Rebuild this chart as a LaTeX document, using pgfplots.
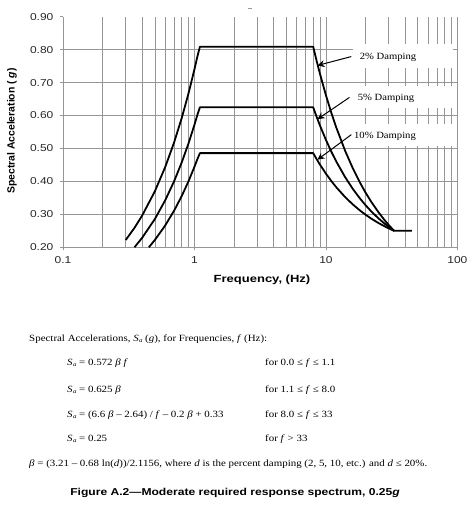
\documentclass[border=0pt]{standalone}
\usepackage{fontspec}
\setmainfont{Liberation Serif}
\setsansfont{Liberation Sans}
\usepackage{pgfplots}
\pgfplotsset{compat=1.18}
\usetikzlibrary{arrows.meta}
\definecolor{gridc}{RGB}{150,150,150}
\newcommand{\Sa}{\textit{S}\kern0.03em\raisebox{-0.35ex}{\fontsize{6}{7}\selectfont\textit{a}}}
\begin{document}
\begin{tikzpicture}[x=1pt,y=1pt]
\path[use as bounding box] (-63,-262.7) rectangle (411,247.3);
\begin{axis}[
  at={(0,0)}, anchor=south west,
  scale only axis, width=394.4pt, height=230.6pt,
  xmode=log, xmin=0.1, xmax=100, ymin=0.2, ymax=0.9,
  axis lines=left, axis line style={-, draw=gridc, line width=0.8pt},
  xtick={0.1,1,10,100}, xticklabels={0.1,1,10,100},
  ytick={0.2,0.3,0.4,0.5,0.6,0.7,0.8},
  yticklabels={0.20,0.30,0.40,0.50,0.60,0.70,0.80},
  extra y ticks={0.9}, extra y tick labels={0.90},
  extra y tick style={grid=none},
  xmajorgrids, xminorgrids, ymajorgrids,
  grid style={draw=gridc, line width=0.7pt},
  minor grid style={draw=gridc, line width=0.7pt},
  major tick length=3pt, minor tick length=0pt, tick align=outside,
  tick style={draw=gridc, line width=0.7pt},
  ticklabel style={font=\fontsize{10}{12}\selectfont\sffamily, text=black!85, xscale=1.2},
  xticklabel style={yshift=-3pt},
  yticklabel style={xshift=-2pt},
  /pgf/number format/assume math mode=true,
]
\addplot[black, line width=1.8pt, line join=round] coordinates {
(0.30,0.2221)(0.35,0.2592)(0.40,0.2962)(0.50,0.3702)(0.60,0.4443)(0.70,0.5183)(0.80,0.5924)(0.90,0.6664)(1.00,0.7405)(1.05,0.7775)(1.10,0.809)(8.0,0.809)(8.5,0.7657)(9,0.7271)(10,0.6615)(11,0.6078)(12,0.5631)(14,0.4928)(16,0.4401)(18,0.3991)(20,0.3663)(22,0.3395)(25,0.3073)(28,0.2820)(30,0.2679)(33,0.25)(45,0.25)};
\addplot[black, line width=1.8pt, line join=round] coordinates {
(0.35,0.2002)(0.40,0.2288)(0.50,0.286)(0.60,0.3432)(0.70,0.4004)(0.80,0.4576)(0.90,0.5148)(1.00,0.572)(1.05,0.6006)(1.10,0.625)(8,0.625)(8.5,0.5959)(9,0.57)(10,0.526)(11,0.49)(12,0.46)(14,0.4129)(16,0.3775)(18,0.35)(20,0.328)(22,0.31)(25,0.2884)(28,0.2714)(30,0.262)(33,0.25)};
\addplot[black, line width=1.8pt, line join=round] coordinates {
(0.45,0.2001)(0.50,0.2223)(0.60,0.2667)(0.70,0.3112)(0.80,0.3556)(0.90,0.4001)(1.00,0.4446)(1.05,0.4668)(1.10,0.4858)(8,0.4858)(8.5,0.4675)(9,0.4512)(10,0.4235)(11,0.4009)(12,0.3820)(14,0.3524)(16,0.3302)(18,0.3129)(20,0.2990)(22,0.2877)(25,0.2741)(28,0.2635)(30,0.2576)(33,0.25)};
\draw[line width=1pt, -{Stealth[length=7pt,width=7pt]}] (axis cs:15.6,0.779) -- (axis cs:8.63,0.752);
\draw[line width=1pt, -{Stealth[length=7pt,width=7pt]}] (axis cs:15.1,0.655) -- (axis cs:8.63,0.589);
\draw[line width=1pt, -{Stealth[length=7pt,width=7pt]}] (axis cs:15.6,0.542) -- (axis cs:8.63,0.466);
\end{axis}
% label boxes
\fill[white] (290,179.3) rectangle (390,203.3);
\fill[white] (290,139.3) rectangle (390,161.3);
\fill[white] (290,101.3) rectangle (390,123.3);
\node[font=\fontsize{9.5}{11}\selectfont, xscale=1.12] at (325,190.3) {2\% Damping};
\node[font=\fontsize{9.5}{11}\selectfont, xscale=1.12] at (323,149.3) {5\% Damping};
\node[font=\fontsize{9.5}{11}\selectfont, xscale=1.12] at (322,111.3) {10\% Damping};
\draw[gridc, line width=0.8pt] (184.5,238.5) -- (189,238.5);
% axis titles
\node[font=\fontsize{10.4}{12}\selectfont\sffamily\bfseries, xscale=1.25] at (199,-32.7) {Frequency, (Hz)};
\node[font=\fontsize{10.4}{12}\selectfont\sffamily\bfseries, rotate=90] at (-51,116.3) {Spectral Acceleration ( \textit{g})};
% text below
\begin{scope}[every node/.style={font=\fontsize{9.5}{11}\selectfont, xscale=1.15, inner sep=0pt}]
\node[anchor=west] at (-34,-91.7) {Spectral Accelerations, \Sa\ (\textit{g}), for Frequencies, \textit{f} (Hz):};
\node[anchor=west] at (4,-115.7) {\Sa\ = 0.572 \textit{β f}};
\node[anchor=west] at (4,-142.7) {\Sa\ = 0.625 \textit{β}};
\node[anchor=west] at (4,-167.7) {\Sa\ = (6.6 \textit{β} – 2.64) / \textit{f} – 0.2 \textit{β} + 0.33};
\node[anchor=west] at (4,-191.7) {\Sa\ = 0.25};
\node[anchor=west] at (202,-115.7) {for 0.0 ≤ \textit{f} ≤ 1.1};
\node[anchor=west] at (202,-142.7) {for 1.1 ≤ \textit{f} ≤ 8.0};
\node[anchor=west] at (202,-167.7) {for 8.0 ≤ \textit{f} ≤ 33};
\node[anchor=west] at (202,-191.7) {for \textit{f} > 33};
\node[anchor=west] at (-34,-216.7) {\textit{β} = (3.21 – 0.68 ln(\textit{d}))/2.1156, where \textit{d} is the percent damping (2, 5, 10, etc.) and \textit{d} ≤ 20\%.};
\end{scope}
\node[font=\fontsize{10}{12}\selectfont\sffamily\bfseries, xscale=1.21] at (172,-245.7) {Figure A.2—Moderate required response spectrum, 0.25\textit{g}};
\end{tikzpicture}
\end{document}
